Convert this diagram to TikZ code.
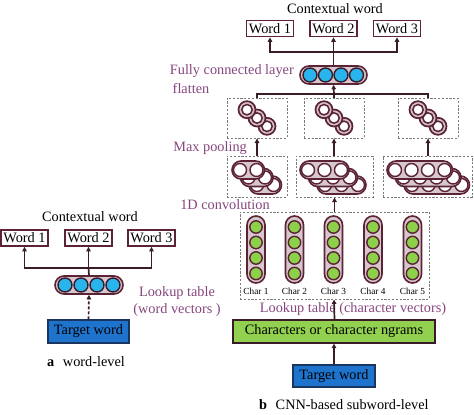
\documentclass[tikz,border=0pt]{standalone}
\usepackage{fontspec}
\setmainfont{Liberation Serif}
\usetikzlibrary{arrows.meta}
\definecolor{maroon}{HTML}{5B2333}
\definecolor{arrowc}{HTML}{3A1C28}
\definecolor{pillfill}{HTML}{D6C6CE}
\definecolor{ringfill}{HTML}{D2C2CA}
\definecolor{cblue}{HTML}{2AB4EE}
\definecolor{cgreen}{HTML}{8DD14A}
\definecolor{chgreen}{HTML}{92D050}
\definecolor{tblue}{HTML}{1E73CC}
\definecolor{tborder}{HTML}{1A3560}
\definecolor{purp}{HTML}{86457E}
\definecolor{dgray}{HTML}{7A7A7A}
\newcommand\convstack[2]{%
  \foreach \lay in {2,1,0}{%
    \pgfmathsetmacro\cyy{170+7.5*\lay}%
    \pgfmathsetmacro\caa{#1+8.5*\lay}%
    \pgfmathsetmacro\cbb{#1+8.5*\lay+16.5*(#2-1)}%
    \draw[pillst, rounded corners=9pt] (\caa-8,\cyy-9) rectangle (\cbb+8,\cyy+9);
    \foreach \mm in {1,...,#2}{\draw[circst, fill=white] ({\caa+16.5*(\mm-1)},\cyy) circle (6.5);}
  }}
\newcommand\ringstack[2]{%
  \foreach \qq in {1,0,-1}{%
    \draw[circst, line width=1.7pt, fill=ringfill] ({#1+10*\qq},{#2+8.3*\qq}) circle (8.5);
    \draw[circst, line width=1.5pt, fill=white] ({#1+10*\qq},{#2+8.3*\qq}) circle (5.2);
  }}
\begin{document}
\begin{tikzpicture}[x=1pt,y=-1pt,
  txt/.style={font=\fontsize{14.3}{16}\selectfont, inner sep=0pt},
  lbl/.style={txt, text=purp},
  wordbox/.style={txt, draw=maroon, line width=1.7pt, fill=white, minimum width=47pt, minimum height=16pt},
  pillst/.style={draw=maroon, line width=1.6pt, fill=pillfill},
  circst/.style={draw=maroon, line width=1.4pt},
  hpill/.style={pillst, rounded corners=9pt, minimum height=18pt, inner sep=0pt},
  vpill/.style={pillst, rounded corners=9pt, minimum width=18pt, minimum height=67pt, inner sep=0pt},
  dbox/.style={draw=dgray, dash pattern=on 2.2pt off 1.6pt, line width=1pt, inner sep=0pt},
  ln/.style={draw=arrowc, line width=1.7pt},
  arr/.style={ln, -{Triangle[length=4.5pt,width=4.5pt]}},
  charlbl/.style={font=\fontsize{9.3}{11}\selectfont, inner sep=0pt},
  tword/.style={txt, draw=tborder, line width=1.2pt, fill=tblue, minimum width=81pt, minimum height=23pt},
]
\useasboundingbox (0,0) rectangle (474,415);

% ---------------- (a) word-level ----------------
\node[txt] (ctxa) at (90,217) {Contextual word};
\node[wordbox] (wa1) at (24.5,238) {Word 1};
\node[wordbox] (wa2) at (88.5,238) {Word 2};
\node[wordbox] (wa3) at (151.5,238) {Word 3};
\node[hpill, minimum width=68pt] (pilla) at (89,285) {};
\foreach \xx in {65,81,97,113} \draw[circst, draw=arrowc, fill=cblue] (\xx,285) circle (7);
\coordinate (ja) at (88.5,268);
\draw[ln] (pilla.north) -- (ja);
\draw[arr] (ja) -| (wa1.south);
\draw[arr] (ja) -- (wa2.south);
\draw[arr] (ja) -| (wa3.south);
\node[tword] (ta) at (88.5,331.5) {Target word};
\draw[ln, dash pattern=on 3pt off 2pt, -{Triangle[length=4.5pt,width=4.5pt]}] (ta.north) -- (pilla.south);
\node[lbl, align=center] (lka) at (177,302) {Lookup table\\[1pt](word vectors )};
\node[txt, anchor=west] (capa) at (47,362) {\textbf{a}\hspace{0.6em}word-level};

% ---------------- (b) CNN-based subword-level ----------------
\node[txt] (ctxb) at (335,9) {Contextual word};
\node[wordbox] (wb1) at (270,28.5) {Word 1};
\node[wordbox] (wb2) at (333.5,28.5) {Word 2};
\node[wordbox] (wb3) at (397,28.5) {Word 3};
\node[hpill, minimum width=67pt] (fc) at (333.5,75) {};
\foreach \xx in {310,325.5,341,356.5} \draw[circst, draw=arrowc, fill=cblue] (\xx,75) circle (7);
\coordinate (jb) at (333.5,51.7);
\draw[ln] (fc.north) -- (jb);
\draw[arr] (jb) -| (wb1.south);
\draw[arr] (jb) -- (wb2.south);
\draw[arr] (jb) -| (wb3.south);

\node[lbl, anchor=east] (fcl) at (294,71) {Fully connected layer};
\node[lbl] (fll) at (191,89) {flatten};

% max pooling boxes
\node[dbox, minimum width=60pt, minimum height=40pt] (p1) at (257,118) {};
\node[dbox, minimum width=60pt, minimum height=40pt] (p2) at (334,118) {};
\node[dbox, minimum width=60pt, minimum height=40pt] (p3) at (428,118) {};
\ringstack{257}{118}
\ringstack{334}{118}
\ringstack{428}{118}
\coordinate (jf) at (334,94);
\draw[ln] (p1.north) |- (jf);
\draw[ln] (p3.north) |- (jf);
\draw[ln] (p2.north) -- (jf);
\draw[arr] (jf) -- (fc.south);
\node[lbl, anchor=east] (mpl) at (247,148) {Max pooling};

% convolution boxes
\node[dbox, minimum width=60pt, minimum height=41pt] (c1) at (257,176.5) {};
\node[dbox, minimum width=77pt, minimum height=41pt] (c2) at (334.5,176.5) {};
\node[dbox, minimum width=89pt, minimum height=41pt] (c3) at (427.5,176.5) {};
\convstack{240}{2}
\convstack{308}{3}
\convstack{395}{4}
\draw[arr] (c1.north -| p1.south) -- (p1.south);
\draw[arr] (c2.north -| p2.south) -- (p2.south);
\draw[arr] (c3.north -| p3.south) -- (p3.south);
\node[lbl] (cvl) at (225,205) {1D convolution};

% character lookup table
\node[dbox, minimum width=189pt, minimum height=87pt] (cb) at (334.5,255.5) {};
\foreach \cx/\nm in {256/1, 294.5/2, 333.5/3, 373/4, 412.5/5}{
  \node[vpill] (cp\nm) at (\cx,249.5) {};
  \foreach \cyv in {227,242.5,258,273.5} \draw[circst, fill=cgreen] (\cx,\cyv) circle (6.2);
  \node[charlbl] (cl\nm) at (\cx,291.5) {Char \nm};
}
\draw[arr] (cb.north -| c2.south) -- (c2.south);
\node[lbl] (lkb) at (353,309) {Lookup table (character vectors)};
\node[txt, draw=arrowc, line width=1.2pt, fill=chgreen, minimum width=202pt, minimum height=23pt] (chr) at (334,331.5) {Characters or character ngrams};
\draw[arr] (chr.north -| cb.south) -- (cb.south -| chr.north);
\node[tword, minimum width=82pt, minimum height=22pt] (tb) at (334,376) {Target word};
\draw[arr] (tb.north) -- (chr.south);
\node[txt, anchor=west] (capb) at (259,405) {\textbf{b}\hspace{0.6em}CNN-based subword-level};
\end{tikzpicture}
\end{document}
